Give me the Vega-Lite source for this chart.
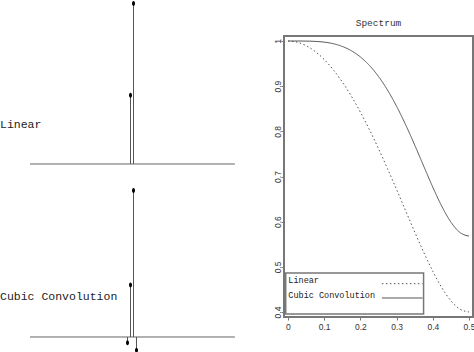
{
  "$schema": "https://vega.github.io/schema/vega-lite/v6.json",
  "padding": 0,
  "background": "white",
  "bounds": "flush",
  "spacing": 44,
  "config": {"view": {"stroke": null}, "font": "Liberation Mono"},
  "datasets": {
    "linear_taps": [{"k": 0, "w": 0.3}, {"k": 1, "w": 0.7}],
    "cubic_taps": [{"k": -1, "w": -0.0315}, {"k": 0, "w": 0.2895}, {"k": 1, "w": 0.8155}, {"k": 2, "w": -0.0735}],
    "spectrum": [
      {"f": 0, "v": 1, "method": "Linear"},
      {"f": 0.025, "v": 0.9974, "method": "Linear"},
      {"f": 0.05, "v": 0.9897, "method": "Linear"},
      {"f": 0.075, "v": 0.9768, "method": "Linear"},
      {"f": 0.1, "v": 0.9591, "method": "Linear"},
      {"f": 0.125, "v": 0.9365, "method": "Linear"},
      {"f": 0.15, "v": 0.9093, "method": "Linear"},
      {"f": 0.175, "v": 0.8779, "method": "Linear"},
      {"f": 0.2, "v": 0.8425, "method": "Linear"},
      {"f": 0.225, "v": 0.8036, "method": "Linear"},
      {"f": 0.25, "v": 0.7616, "method": "Linear"},
      {"f": 0.275, "v": 0.7172, "method": "Linear"},
      {"f": 0.3, "v": 0.671, "method": "Linear"},
      {"f": 0.325, "v": 0.624, "method": "Linear"},
      {"f": 0.35, "v": 0.5772, "method": "Linear"},
      {"f": 0.375, "v": 0.532, "method": "Linear"},
      {"f": 0.4, "v": 0.4901, "method": "Linear"},
      {"f": 0.425, "v": 0.4536, "method": "Linear"},
      {"f": 0.45, "v": 0.4249, "method": "Linear"},
      {"f": 0.475, "v": 0.4064, "method": "Linear"},
      {"f": 0.5, "v": 0.4, "method": "Linear"},
      {"f": 0, "v": 1, "method": "Cubic Convolution"},
      {"f": 0.025, "v": 1.0, "method": "Cubic Convolution"},
      {"f": 0.05, "v": 0.9998, "method": "Cubic Convolution"},
      {"f": 0.075, "v": 0.9992, "method": "Cubic Convolution"},
      {"f": 0.1, "v": 0.9975, "method": "Cubic Convolution"},
      {"f": 0.125, "v": 0.9941, "method": "Cubic Convolution"},
      {"f": 0.15, "v": 0.988, "method": "Cubic Convolution"},
      {"f": 0.175, "v": 0.9785, "method": "Cubic Convolution"},
      {"f": 0.2, "v": 0.9647, "method": "Cubic Convolution"},
      {"f": 0.225, "v": 0.9459, "method": "Cubic Convolution"},
      {"f": 0.25, "v": 0.9215, "method": "Cubic Convolution"},
      {"f": 0.275, "v": 0.8913, "method": "Cubic Convolution"},
      {"f": 0.3, "v": 0.8554, "method": "Cubic Convolution"},
      {"f": 0.325, "v": 0.8145, "method": "Cubic Convolution"},
      {"f": 0.35, "v": 0.7696, "method": "Cubic Convolution"},
      {"f": 0.375, "v": 0.7227, "method": "Cubic Convolution"},
      {"f": 0.4, "v": 0.6763, "method": "Cubic Convolution"},
      {"f": 0.425, "v": 0.6338, "method": "Cubic Convolution"},
      {"f": 0.45, "v": 0.599, "method": "Cubic Convolution"},
      {"f": 0.475, "v": 0.5761, "method": "Cubic Convolution"},
      {"f": 0.5, "v": 0.568, "method": "Cubic Convolution"}
    ]
  },
  "hconcat": [
    {
      "width": 240,
      "height": 352,
      "layer": [
        {
          "data": {"name": "linear_taps"},
          "layer": [
            {
              "data": {"values": [{}]},
              "mark": {"type": "rule", "color": "#666", "strokeWidth": 1},
              "encoding": {
                "x": {"datum": -33.5, "type": "quantitative", "scale": {"domain": [-43.5, 36.5], "nice": false, "zero": false}, "axis": null},
                "x2": {"datum": 34.8},
                "y": {"datum": 0, "type": "quantitative", "scale": {"domain": [-0.8243, 0.7109], "nice": false, "zero": false}, "axis": null}
              }
            },
            {
              "mark": {"type": "rule", "color": "#555", "strokeWidth": 1},
              "encoding": {
                "x": {"field": "k", "type": "quantitative", "axis": null},
                "y": {"field": "w", "type": "quantitative", "axis": null},
                "y2": {"datum": 0}
              }
            },
            {
              "mark": {"type": "point", "filled": true, "shape": "M0,-1A0.6,1,0,0,1,0,1A0.6,1,0,0,1,0,-1Z", "size": 25, "color": "black", "opacity": 1},
              "encoding": {
                "x": {"field": "k", "type": "quantitative", "axis": null},
                "y": {"field": "w", "type": "quantitative", "axis": null}
              }
            },
            {
              "data": {"values": [{}]},
              "mark": {"type": "text", "align": "left", "baseline": "alphabetic", "fontSize": 11.5, "font": "Liberation Mono", "color": "#222"},
              "encoding": {
                "x": {"datum": -43.5, "type": "quantitative", "axis": null},
                "y": {"datum": 0.157, "type": "quantitative", "axis": null},
                "text": {"value": "Linear"}
              }
            }
          ]
        },
        {
          "data": {"name": "cubic_taps"},
          "layer": [
            {
              "data": {"values": [{}]},
              "mark": {"type": "rule", "color": "#666", "strokeWidth": 1},
              "encoding": {
                "x": {"datum": -33.5, "type": "quantitative", "axis": null},
                "x2": {"datum": 34.8},
                "y": {"datum": 0, "type": "quantitative", "scale": {"domain": [-0.0891, 1.8708], "nice": false, "zero": false}, "axis": null}
              }
            },
            {
              "mark": {"type": "rule", "color": "#555", "strokeWidth": 1},
              "encoding": {
                "x": {"field": "k", "type": "quantitative", "axis": null},
                "y": {"field": "w", "type": "quantitative", "axis": null},
                "y2": {"datum": 0}
              }
            },
            {
              "mark": {"type": "point", "filled": true, "shape": "M0,-1A0.6,1,0,0,1,0,1A0.6,1,0,0,1,0,-1Z", "size": 25, "color": "black", "opacity": 1},
              "encoding": {
                "x": {"field": "k", "type": "quantitative", "axis": null},
                "y": {"field": "w", "type": "quantitative", "axis": null}
              }
            },
            {
              "data": {"values": [{}]},
              "mark": {"type": "text", "align": "left", "baseline": "alphabetic", "fontSize": 11.5, "font": "Liberation Mono", "color": "#222"},
              "encoding": {
                "x": {"datum": -43.5, "type": "quantitative", "axis": null},
                "y": {"datum": 0.204, "type": "quantitative", "axis": null},
                "text": {"value": "Cubic Convolution"}
              }
            }
          ]
        }
      ],
      "resolve": {"scale": {"y": "independent"}, "axis": {"y": "independent"}}
    },
    {
      "width": 189,
      "height": 352,
      "title": {"text": "Spectrum", "font": "Liberation Mono", "fontSize": 9.5, "fontWeight": "normal", "color": "#333", "offset": -31, "baseline": "middle"},
      "data": {"name": "spectrum"},
      "layer": [
        {
          "data": {"values": [{}]},
          "mark": {"type": "rect", "fill": null, "fillOpacity": 0, "stroke": "#777", "strokeWidth": 2},
          "encoding": {
            "x": {
              "datum": -0.011, "type": "quantitative",
              "scale": {"domain": [-0.011, 0.511], "nice": false, "zero": false},
              "axis": {"values": [0, 0.1, 0.2, 0.3, 0.4, 0.5], "tickCount": 6, "format": "~g", "domain": false, "grid": false, "offset": -36, "tickSize": 3, "tickColor": "#777", "labelFont": "Liberation Sans", "labelFontSize": 8.5, "labelColor": "#333", "labelPadding": 2, "title": null, "labelFlush": false, "labelOverlap": false, "labelBound": false}
            },
            "x2": {"datum": 0.511},
            "y": {
              "datum": 1.0111, "type": "quantitative",
              "scale": {"domain": [0.3092, 1.0886], "nice": false, "zero": false},
              "axis": {"values": [0.4, 0.5, 0.6, 0.7, 0.8, 0.9, 1], "tickCount": 7, "format": "~g", "domain": false, "grid": false, "tickSize": 3, "tickColor": "#777", "labelFont": "Liberation Sans", "labelFontSize": 8.5, "labelColor": "#333", "labelPadding": 1, "labelAngle": 270, "labelAlign": "center", "labelBaseline": "alphabetic", "title": null, "labelFlush": false, "labelOverlap": false, "labelBound": false}
            },
            "y2": {"datum": 0.3889}
          }
        },
        {
          "mark": {"type": "line", "color": "#555", "strokeWidth": 1, "interpolate": "monotone"},
          "encoding": {
            "x": {"field": "f", "type": "quantitative"},
            "y": {"field": "v", "type": "quantitative"},
            "strokeDash": {
              "field": "method", "type": "nominal",
              "scale": {"domain": ["Linear", "Cubic Convolution"], "range": [[1.5, 2.5], [1, 0]]},
              "legend": null
            }
          }
        },
        {
          "data": {"values": [{}]},
          "mark": {"type": "rect", "fill": "white", "stroke": "#777", "strokeWidth": 1.5},
          "encoding": {
            "x": {"datum": -0.0063, "type": "quantitative"},
            "x2": {"datum": 0.3745},
            "y": {"datum": 0.4864, "type": "quantitative"},
            "y2": {"datum": 0.3956}
          }
        },
        {
          "data": {"values": [{}]},
          "mark": {"type": "text", "align": "left", "baseline": "middle", "fontSize": 8.5, "font": "Liberation Mono", "color": "#222"},
          "encoding": {
            "x": {"datum": 0.001, "type": "quantitative"},
            "y": {"datum": 0.4702, "type": "quantitative"},
            "text": {"value": "Linear"}
          }
        },
        {
          "data": {"values": [{}]},
          "mark": {"type": "text", "align": "left", "baseline": "middle", "fontSize": 8.5, "font": "Liberation Mono", "color": "#222"},
          "encoding": {
            "x": {"datum": 0.001, "type": "quantitative"},
            "y": {"datum": 0.437, "type": "quantitative"},
            "text": {"value": "Cubic Convolution"}
          }
        },
        {
          "data": {"values": [{}]},
          "mark": {"type": "rule", "color": "#555", "strokeWidth": 1, "strokeDash": [1.5, 2.5]},
          "encoding": {
            "x": {"datum": 0.2594, "type": "quantitative"},
            "x2": {"datum": 0.3717},
            "y": {"datum": 0.4627, "type": "quantitative"}
          }
        },
        {
          "data": {"values": [{}]},
          "mark": {"type": "rule", "color": "#555", "strokeWidth": 1},
          "encoding": {
            "x": {"datum": 0.2594, "type": "quantitative"},
            "x2": {"datum": 0.3717},
            "y": {"datum": 0.431, "type": "quantitative"}
          }
        }
      ]
    }
  ]
}
